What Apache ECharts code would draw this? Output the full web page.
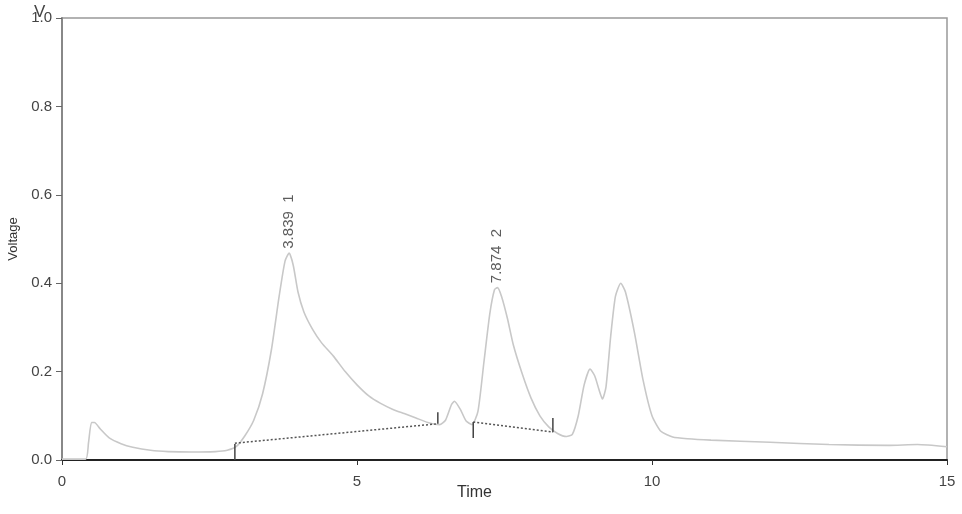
<!DOCTYPE html>
<html>
<head>
<meta charset="utf-8">
<script src="https://cdn.jsdelivr.net/npm/echarts@6/dist/echarts.min.js"></script>
<style>html,body{margin:0;padding:0;background:#fff}#c{width:962px;height:514px}</style>
</head>
<body>
<div id="c"></div>
<script>
// Chromatogram trace
var times = [0,0.40,0.45,0.50,0.55,0.65,0.8,1.0,1.2,1.5,1.8,2.2,2.6,2.8,2.95,3.1,3.25,3.4,3.55,3.68,3.78,3.85,3.92,4.0,4.1,4.25,4.4,4.6,4.8,5.0,5.2,5.4,5.6,5.8,6.0,6.2,6.4,6.5,6.6,6.65,6.75,6.85,6.95,7.05,7.15,7.25,7.33,7.38,7.45,7.55,7.65,7.8,7.95,8.1,8.25,8.4,8.55,8.65,8.75,8.85,8.95,9.03,9.1,9.16,9.22,9.3,9.38,9.47,9.55,9.7,9.85,10.0,10.15,10.35,10.6,11,12,13,14,14.5,15];
var volts = [0.002,0.002,0.04,0.085,0.085,0.07,0.05,0.037,0.029,0.022,0.019,0.018,0.019,0.022,0.03,0.055,0.09,0.15,0.25,0.37,0.45,0.468,0.44,0.38,0.335,0.295,0.265,0.235,0.2,0.17,0.145,0.128,0.115,0.105,0.095,0.085,0.08,0.09,0.125,0.133,0.115,0.088,0.08,0.11,0.22,0.33,0.385,0.39,0.37,0.32,0.26,0.195,0.14,0.1,0.075,0.06,0.053,0.058,0.1,0.17,0.206,0.19,0.16,0.138,0.165,0.28,0.37,0.40,0.38,0.29,0.18,0.1,0.065,0.052,0.048,0.045,0.04,0.035,0.033,0.035,0.03];
// Integration baselines [t, v]
var baseline1 = [[2.93,0.038],[6.37,0.082]];
var baseline2 = [[6.97,0.086],[8.32,0.063]];
// Baseline tick marks: segments [t, v0, v1]
var baseTicks = [[2.93,0.0,0.036],[6.37,0.082,0.108],[6.97,0.05,0.086],[8.32,0.063,0.095]];
// Peak annotations
var peakTimes = [3.85,7.37];
var peakVolts = [0.478,0.40];
var peakLabels = ['3.839  1','7.874  2'];
var xTicks = [0,5,10,15];
var yTicks = [0.0,0.2,0.4,0.6,0.8,1.0];

var trace = times.map(function(t,i){return [t,volts[i]];});
var tickData = [];
baseTicks.forEach(function(s,i){ if(i>0) tickData.push([s[0],'-']); tickData.push([s[0],s[1]]); tickData.push([s[0],s[2]]); });
var peakData = peakTimes.map(function(t,i){return {value:[t,peakVolts[i]], name: peakLabels[i]};});

var chart = echarts.init(document.getElementById('c'));
var font = 'Liberation Sans, Arial, sans-serif';
chart.setOption({
  animation:false,
  grid:{left:62,right:15,top:18,bottom:54,show:true,borderColor:'#999',borderWidth:1.5,outerBoundsMode:'none',containLabel:false},
  xAxis:{type:'value',min:0,max:15,interval:5,
    axisLine:{show:true,onZero:false,lineStyle:{color:'#222',width:2}},
    axisTick:{show:true,length:5,lineStyle:{color:'#333'}},
    axisLabel:{color:'#444',fontSize:15,fontFamily:font,margin:14,
      formatter:function(v){return xTicks.indexOf(v)>=0?String(v):'';}},
    splitLine:{show:false}},
  yAxis:{type:'value',min:0,max:1,interval:0.2,
    name:'Voltage',nameLocation:'middle',nameGap:40,
    nameTextStyle:{color:'#333',fontSize:13,fontFamily:font},
    axisLine:{show:true,lineStyle:{color:'#888',width:2}},
    axisTick:{show:true,length:6,lineStyle:{color:'#666'}},
    axisLabel:{color:'#444',fontSize:15,fontFamily:font,margin:10,formatter:function(v){return v.toFixed(1);}},
    splitLine:{show:false}},
  graphic:[
    {type:'text',left:34,top:4,style:{text:'V',fontSize:17,fontFamily:font,fill:'#444'}},
    {type:'text',left:457,top:485,style:{text:'Time',fontSize:16,fontFamily:font,fill:'#333'}}
  ],
  series:[
    {type:'line',data:trace,smooth:0.2,showSymbol:false,lineStyle:{color:'#c8c8c8',width:1.6},z:2},
    {type:'line',data:baseline1,showSymbol:false,lineStyle:{color:'#555',width:1.5,type:[2,2]},z:3},
    {type:'line',data:baseline2,showSymbol:false,lineStyle:{color:'#555',width:1.5,type:[2,2]},z:3},
    {type:'line',data:tickData,showSymbol:false,connectNulls:false,lineStyle:{color:'#444',width:1.5},z:3},
    {type:'scatter',data:peakData,symbolSize:0,z:4,
      label:{show:true,rotate:90,position:'top',distance:0,align:'left',verticalAlign:'middle',
        formatter:function(p){return p.name;},color:'#333',fontSize:15,fontFamily:font}}
  ]
});
</script>
</body>
</html>
